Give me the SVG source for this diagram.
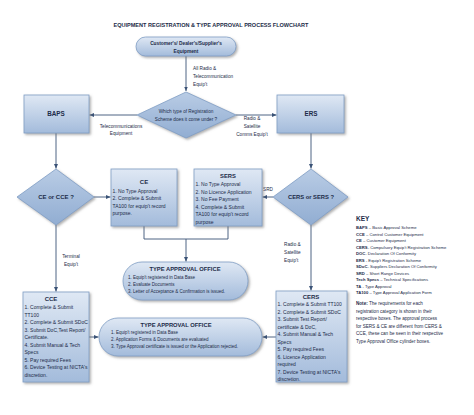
<svg xmlns="http://www.w3.org/2000/svg" width="474" height="415" viewBox="0 0 474 415">
<defs>
<linearGradient id="gBox" x1="0" y1="0" x2="0" y2="1">
<stop offset="0" stop-color="#dfe8f4"/>
<stop offset="1" stop-color="#a3bbdb"/>
</linearGradient>
<linearGradient id="gDia" x1="0" y1="0" x2="0" y2="1">
<stop offset="0" stop-color="#b9cce5"/>
<stop offset="1" stop-color="#91add2"/>
</linearGradient>
<filter id="sh" x="-10%" y="-10%" width="130%" height="130%">
<feDropShadow dx="1.5" dy="1.5" stdDeviation="0.8" flood-color="#7a7a7a" flood-opacity="0.6"/>
</filter>
<marker id="ah" markerWidth="5" markerHeight="5" refX="4.5" refY="2.5" orient="auto" markerUnits="userSpaceOnUse">
<path d="M0,0.5 L4.5,2.5 L0,4.5 Z" fill="#3a5276"/>
</marker>
</defs>
<style>
text{font-family:"Liberation Sans",Arial,sans-serif;fill:#1c2b48}
.box{fill:url(#gBox);stroke:#7f9dc4;stroke-width:0.8;filter:url(#sh)}
.dia{fill:url(#gDia);stroke:#7f9dc4;stroke-width:0.8;filter:url(#sh)}
.b{font-weight:bold}
.t{font-size:5px}
.s{font-size:4.5px}
.k{font-size:4.2px}
.n{font-size:4.6px}
.l{font-size:4.7px}
.c line,.c path{stroke:#3a5276;stroke-width:0.9;fill:none}
</style>
<text x="211" y="27" class="b" font-size="6" text-anchor="middle" textLength="195" lengthAdjust="spacingAndGlyphs">EQUIPMENT REGISTRATION &amp; TYPE APPROVAL PROCESS FLOWCHART</text>

<g class="c" id="connectors">
<line x1="186" y1="56" x2="186" y2="91" marker-end="url(#ah)"/>
<line x1="137" y1="115" x2="89.5" y2="115" marker-end="url(#ah)"/>
<line x1="236" y1="115" x2="276.5" y2="115" marker-end="url(#ah)"/>
<line x1="56" y1="133" x2="56" y2="168.5" marker-end="url(#ah)"/>
<line x1="94" y1="197" x2="110.5" y2="197" marker-end="url(#ah)"/>
<line x1="311" y1="133" x2="311" y2="168.5" marker-end="url(#ah)"/>
<line x1="273" y1="197" x2="262.5" y2="197" marker-end="url(#ah)"/>
<path d="M144,226 V239 H228 V226"/>
<line x1="186" y1="239" x2="186" y2="261.5" marker-end="url(#ah)"/>
<line x1="56" y1="225" x2="56" y2="291.5" marker-end="url(#ah)"/>
<line x1="89" y1="337" x2="98.5" y2="337" marker-end="url(#ah)"/>
<line x1="311" y1="225" x2="311" y2="290.5" marker-end="url(#ah)"/>
<line x1="276" y1="337" x2="262.5" y2="337" marker-end="url(#ah)"/>
</g>

<g id="labels">
<text class="l" x="193" y="70">All Radio &amp;</text>
<text class="l" x="193" y="78">Telecommunication</text>
<text class="l" x="193" y="86">Equip't</text>
<text class="l" x="121" y="128" text-anchor="middle">Telecommunications</text>
<text class="l" x="121" y="135" text-anchor="middle">Equipment</text>
<text class="l" x="252" y="120" text-anchor="middle">Radio &amp;</text>
<text class="l" x="252" y="128" text-anchor="middle">Satellite</text>
<text class="l" x="252" y="136" text-anchor="middle">Comms Equip't</text>
<text class="l" x="268" y="191" text-anchor="middle">SRD</text>
<text class="l" x="71" y="258" text-anchor="middle">Terminal</text>
<text class="l" x="71" y="266" text-anchor="middle">Equip't</text>
<text class="l" x="284" y="246">Radio &amp;</text>
<text class="l" x="284" y="254">Satellite</text>
<text class="l" x="284" y="262">Equip't</text>
</g>

<g id="start">
<rect x="136" y="37" width="100" height="19" rx="9.5" class="box"/>
<text x="186" y="45" class="b" font-size="4.8" text-anchor="middle">Customer's/ Dealer's/Supplier's</text>
<text x="186" y="52.5" class="b" font-size="4.8" text-anchor="middle">Equipment</text>
</g>

<g id="scheme">
<polygon points="186,92 236,115 186,138 137,115" class="dia"/>
<text x="186" y="113" class="l" text-anchor="middle">Which type of Registration</text>
<text x="186" y="120.5" class="l" text-anchor="middle">Scheme does it come under ?</text>
</g>

<g id="baps">
<rect x="24" y="95" width="65" height="38" class="box"/>
<text x="56" y="116" class="b" font-size="6.3" text-anchor="middle">BAPS</text>
</g>

<g id="ers">
<rect x="277" y="95" width="67" height="38" class="box"/>
<text x="311" y="116" class="b" font-size="6.3" text-anchor="middle">ERS</text>
</g>

<g id="ce-or-cce">
<polygon points="56,169 94,197 56,225 17,197" class="dia"/>
<text x="56" y="199" class="b" font-size="6" text-anchor="middle">CE or CCE ?</text>
</g>

<g id="cers-or-sers">
<polygon points="311,169 348,197 311,225 273,197" class="dia"/>
<text x="311" y="199" class="b" font-size="5.8" text-anchor="middle">CERS or SERS ?</text>
</g>

<g id="ce">
<rect x="111" y="169" width="66" height="57" class="box"/>
<text x="144" y="184" class="b" font-size="6" text-anchor="middle">CE</text>
<text x="112.5" y="192.5" class="t">1. No Type Approval</text>
<text x="112.5" y="200" class="t">2. Complete &amp; Submit</text>
<text x="112.5" y="207.5" class="t">TA100 for equip't record</text>
<text x="112.5" y="215" class="t">purpose.</text>
</g>

<g id="sers">
<rect x="194" y="169" width="68" height="57" class="box"/>
<text x="228" y="177.5" class="b" font-size="5.8" text-anchor="middle">SERS</text>
<text x="195.5" y="186" class="t">1. No Type Approval</text>
<text x="195.5" y="193.5" class="t">2. No Licence Application</text>
<text x="195.5" y="201" class="t">3. No Fee Payment</text>
<text x="195.5" y="208.5" class="t">4. Complete &amp; Submit</text>
<text x="195.5" y="216" class="t">TA100 for equip't record</text>
<text x="195.5" y="223.5" class="t">purpose</text>
</g>

<g id="tao1">
<rect x="123" y="262" width="125" height="38" rx="19" class="box"/>
<text x="185" y="271" class="b" font-size="5.8" text-anchor="middle">TYPE APPROVAL OFFICE</text>
<text x="128" y="279" class="s">1. Equip't registered in Data Base</text>
<text x="128" y="286" class="s">2. Evaluate Documents</text>
<text x="128" y="293" class="s">3. Letter of Acceptance &amp;  Confirmation is issued.</text>
</g>

<g id="tao2">
<rect x="99" y="318" width="163" height="38" rx="19" class="box"/>
<text x="176" y="326.5" class="b" font-size="5.8" text-anchor="middle">TYPE APPROVAL OFFICE</text>
<text x="111" y="334" class="s">1. Equip't registered in Data Base</text>
<text x="111" y="341" class="s">2.  Application Forms &amp; Documents are evaluated</text>
<text x="111" y="348" class="s">3.  Type Approval certificate is issued or the Application rejected.</text>
</g>

<g id="cce">
<rect x="23" y="292" width="66" height="90" class="box"/>
<text x="51" y="301" class="b" font-size="6" text-anchor="middle">CCE</text>
<text x="24.5" y="309" class="t">1. Complete &amp; Submit</text>
<text x="24.5" y="316.5" class="t">TT100</text>
<text x="24.5" y="324" class="t">2. Complete &amp; Submit SDoC</text>
<text x="24.5" y="331.5" class="t">3. Submit DoC,Test Report/</text>
<text x="24.5" y="339" class="t">Certificate.</text>
<text x="24.5" y="346.5" class="t">4. Submit Manual &amp; Tech</text>
<text x="24.5" y="354" class="t">Specs</text>
<text x="24.5" y="361.5" class="t">5. Pay required Fees</text>
<text x="24.5" y="369" class="t">6. Device Testing at NICTA's</text>
<text x="24.5" y="376.5" class="t">discretion.</text>
</g>

<g id="cers">
<rect x="276" y="291" width="71" height="91" class="box"/>
<text x="311" y="298.5" class="b" font-size="6" text-anchor="middle">CERS</text>
<text x="277.5" y="306" class="t">1. Complete &amp; Submit TT100</text>
<text x="277.5" y="313.5" class="t">2. Complete &amp; Submit SDoC</text>
<text x="277.5" y="321" class="t">3. Submit Test Report/</text>
<text x="277.5" y="328.5" class="t">certificate &amp; DoC,</text>
<text x="277.5" y="336" class="t">4. Submit Manual &amp; Tech</text>
<text x="277.5" y="343.5" class="t">Specs</text>
<text x="277.5" y="351" class="t">5. Pay required Fees</text>
<text x="277.5" y="358.5" class="t">6. Licence Application</text>
<text x="277.5" y="366" class="t">required</text>
<text x="277.5" y="373.5" class="t">7. Device Testing at NICTA's</text>
<text x="277.5" y="381" class="t">discretion.</text>
</g>

<g id="key">
<text x="356" y="221" class="b" font-size="6.5">KEY</text>
<text x="356" y="229" class="k"><tspan class="b">BAPS</tspan> – Basic Approval Scheme</text>
<text x="356" y="235.5" class="k"><tspan class="b">CCE</tspan> – Control Customer Equipment</text>
<text x="356" y="242" class="k"><tspan class="b">CE</tspan> – Customer Equipment</text>
<text x="356" y="248.5" class="k"><tspan class="b">CERS</tspan>- Compulsory Equip't Registration Scheme</text>
<text x="356" y="255" class="k"><tspan class="b">DOC</tspan>- Declaration Of Conformity</text>
<text x="356" y="261.5" class="k"><tspan class="b">ERS</tspan> - Equip't Registration Scheme</text>
<text x="356" y="268" class="k"><tspan class="b">SDoC</tspan>- Suppliers Declaration Of Conformity</text>
<text x="356" y="274.5" class="k"><tspan class="b">SRD</tspan> – Short Range Devices</text>
<text x="356" y="281" class="k"><tspan class="b">Tech Specs</tspan> – Technical Specifications</text>
<text x="356" y="287.5" class="k"><tspan class="b">TA</tspan> - Type Approval</text>
<text x="356" y="294" class="k"><tspan class="b">TA100</tspan> – Type Approval Application Form</text>
<text x="356" y="305" class="n"><tspan class="b">Note:</tspan> The requirements for each</text>
<text x="356" y="312.5" class="n">registration category is shown in their</text>
<text x="356" y="320" class="n">respective boxes. The  approval process</text>
<text x="356" y="327.5" class="n">for SERS &amp; CE are different from CERS &amp;</text>
<text x="356" y="335" class="n">CCE, these can be seen in their respective</text>
<text x="356" y="342.5" class="n">Type Approval Office cylinder boxes.</text>
</g>
</svg>
